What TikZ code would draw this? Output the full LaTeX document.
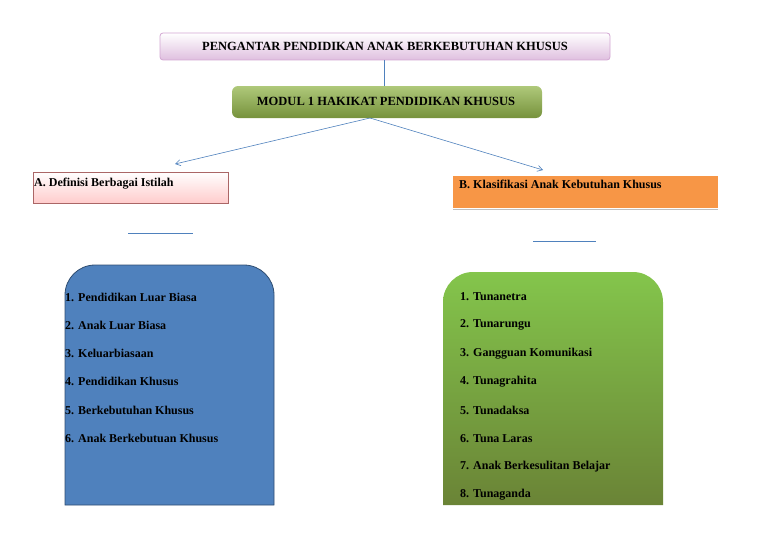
\documentclass[tikz,border=0pt]{standalone}
\usepackage{fontspec}
\setmainfont{Liberation Serif}
\usetikzlibrary{arrows.meta}
\definecolor{lblue}{HTML}{4F81BD}
\definecolor{lgreen}{HTML}{9BBB59}
\definecolor{dgreen}{HTML}{76923C}
\definecolor{lorange}{HTML}{F79646}
\tikzset{
 lbl/.style={font=\bfseries\fontsize{12}{14}\selectfont, anchor=west, inner sep=0pt},
 conn/.style={draw=lblue, line width=0.6pt},
 arr/.style={conn, -{Straight Barb[length=5pt,width=6pt]}},
}
\begin{document}
\begin{tikzpicture}[x=1pt,y=-1pt]
\useasboundingbox (0,0) rectangle (768,543);
% title
\shade[top color=white, bottom color=violet!25, draw=violet!35, rounded corners=3pt, line width=0.8pt] (160,33) rectangle (610,60);
\node[font=\bfseries\fontsize{12.5}{14}\selectfont, inner sep=0pt] (title) at (385,46) {PENGANTAR PENDIDIKAN ANAK BERKEBUTUHAN KHUSUS};
\coordinate (tb) at (384,60);
% module
\shade[top color=lgreen!80!white, bottom color=dgreen, rounded corners=6pt] (232,86) rectangle (542,118);
\node[font=\bfseries\fontsize{12.5}{14}\selectfont, inner sep=0pt] (mod) at (386,101) {MODUL 1 HAKIKAT PENDIDIKAN KHUSUS};
\coordinate (mt) at (384,86);
\coordinate (mb) at (370,118);
\draw[conn] (tb) -- (mt);
% A and B
\shade[top color=white, bottom color=red!20, draw=red!45!black!60, line width=0.6pt] (33,172) rectangle (228,203);
\node[lbl] (a) at (34,184) {A. Definisi Berbagai Istilah};
\fill[lorange] (453,176) rectangle (718,208);
\draw[gray!50, line width=1pt] (453,209) -- (718,209);
\node[lbl] (b) at (459,184) {B. Klasifikasi Anak Kebutuhan Khusus};
\coordinate (at) at (175,164);
\coordinate (bt) at (543,170);
\draw[arr] (mb) -- (at);
\draw[arr] (mb) -- (bt);
% short lines
\coordinate (l1) at (128,233); \coordinate (l2) at (193,233);
\coordinate (r1) at (533,241); \coordinate (r2) at (596,241);
\draw[conn, line width=0.8pt] (l1) -- (l2);
\draw[conn, line width=0.8pt] (r1) -- (r2);
% left box
\fill[lblue, draw=lblue!60!black, line width=0.8pt, rounded corners=30pt] (65,505) -- (65,265) -- (274,265) [sharp corners] -- (274,505) -- cycle;
\foreach \t [count=\i from 0] in {1. Pendidikan Luar Biasa,2. Anak Luar Biasa,3. Keluarbiasaan,4. Pendidikan Khusus,5. Berkebutuhan Khusus,6. Anak Berkebutuan Khusus}
  \node[lbl] (L\i) at (65,{297+28.3*\i}) {\t};
% right box
\shade[top color=lgreen!85!green, bottom color=dgreen!90!black, rounded corners=30pt] (443,505) -- (443,272) -- (663,272) [sharp corners] -- (663,505) -- cycle;
\foreach \t [count=\i from 0] in {1. Tunanetra,2. Tunarungu,3. Gangguan Komunikasi,4. Tunagrahita,5. Tunadaksa,6. Tuna Laras,7. Anak Berkesulitan Belajar,8. Tunaganda}
  \node[lbl] (R\i) at (460,{297+28.3*\i}) {\t};
\end{tikzpicture}
\end{document}
